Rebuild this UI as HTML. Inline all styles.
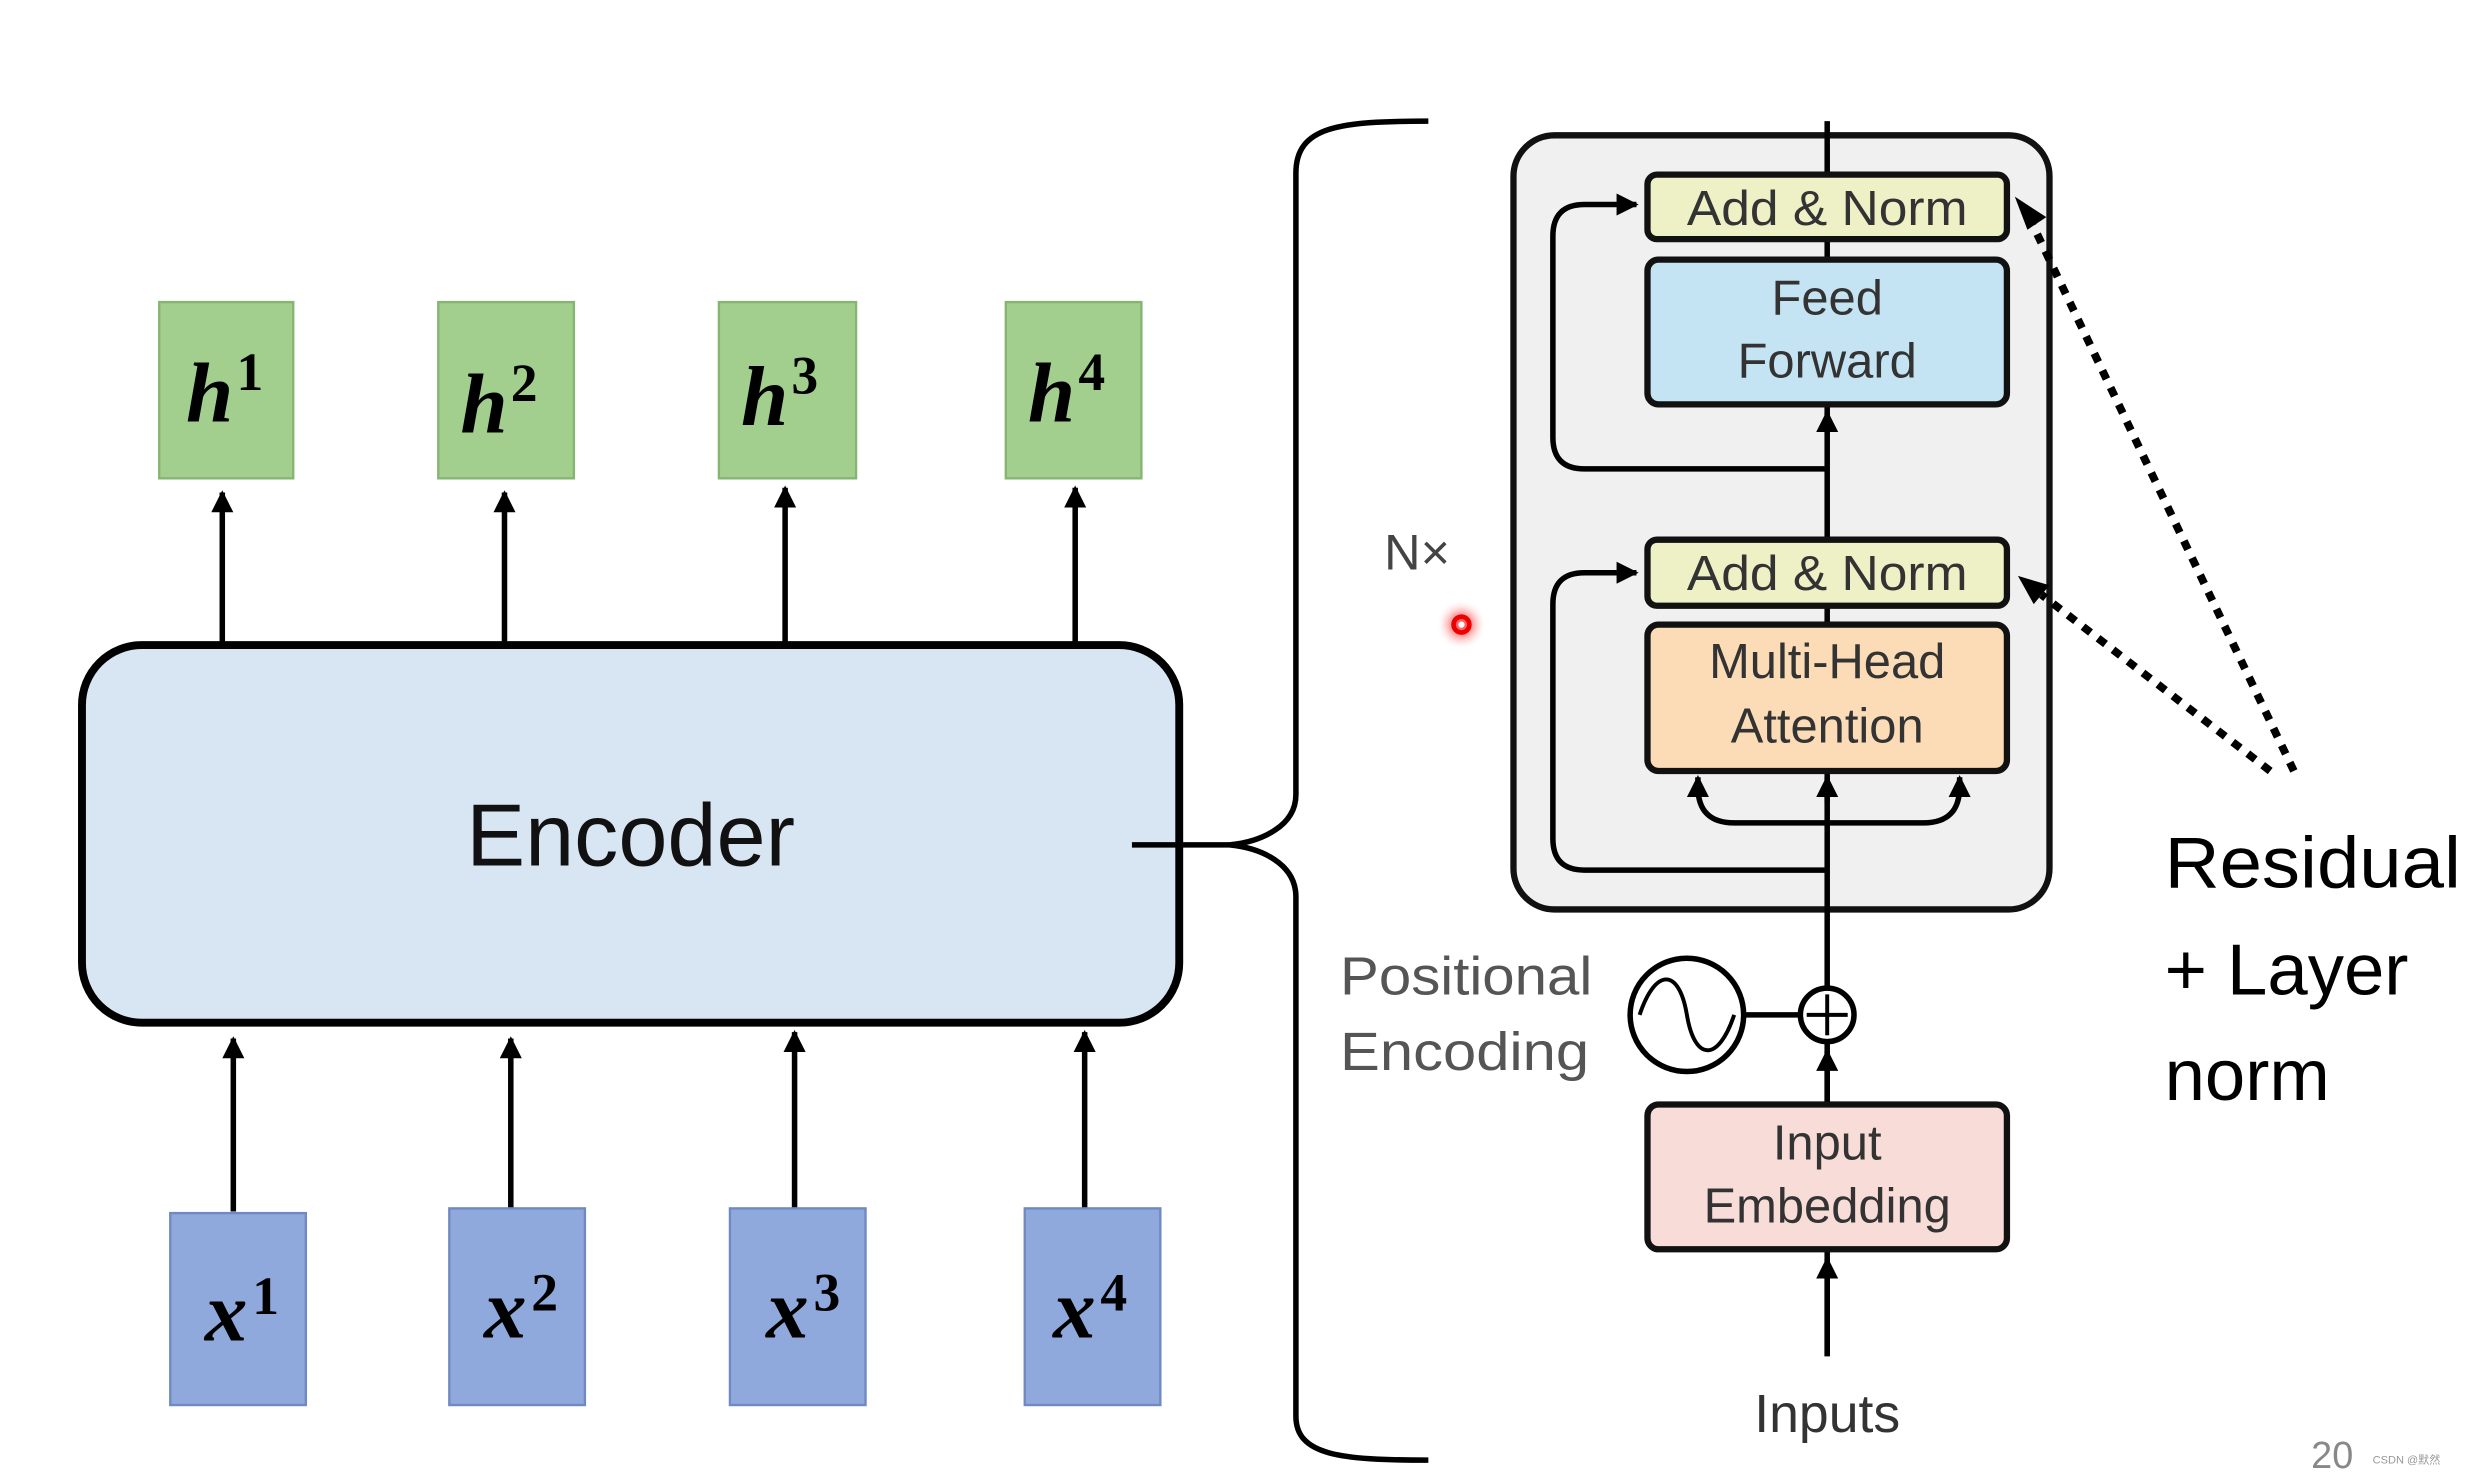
<!DOCTYPE html>
<html><head><meta charset="utf-8"><style>
html,body{margin:0;padding:0;background:#fff;}
svg{display:block;}
text{font-family:"Liberation Sans",sans-serif;}
.m text{font-family:"Liberation Serif",serif;font-style:italic;font-weight:bold;}
.m text.s{font-style:normal;font-weight:bold;}
</style></head><body>
<svg width="2472" height="1479" viewBox="0 0 1568 940" preserveAspectRatio="none" xmlns="http://www.w3.org/2000/svg">
<defs>
<marker id="a" viewBox="0 0 10 10" refX="9" refY="5" markerWidth="4" markerHeight="4" orient="auto"><path d="M0,0L10,5L0,10z" fill="#000"/></marker>
<radialGradient id="rd"><stop offset="0" stop-color="#ff3030"/><stop offset="0.5" stop-color="#ff8080" stop-opacity="0.6"/><stop offset="1" stop-color="#fff" stop-opacity="0"/></radialGradient>
</defs>
<rect width="1568" height="940" fill="#fff"/>
<g fill="#a3cf8e" stroke="#86b572" stroke-width="1.5">
<rect x="101" y="192" width="85" height="112"/><rect x="278" y="192" width="86" height="112"/>
<rect x="456" y="192" width="87" height="112"/><rect x="638" y="192" width="86" height="112"/>
</g>
<g class="m" font-size="54" fill="#000">
<text x="118" y="268">h</text><text class="s" x="150" y="248" font-size="34">1</text>
<text x="292" y="275">h</text><text class="s" x="324" y="255" font-size="34">2</text>
<text x="470" y="270">h</text><text class="s" x="502" y="250" font-size="34">3</text>
<text x="652" y="268">h</text><text class="s" x="684" y="248" font-size="34">4</text>
</g>
<g stroke="#000" stroke-width="3.5" marker-end="url(#a)">
<line x1="141" y1="408" x2="141" y2="313"/><line x1="320" y1="408" x2="320" y2="313"/>
<line x1="498" y1="408" x2="498" y2="310"/><line x1="682" y1="408" x2="682" y2="310"/>
<line x1="148" y1="770" x2="148" y2="660"/><line x1="324" y1="768" x2="324" y2="660"/>
<line x1="504" y1="768" x2="504" y2="656"/><line x1="688" y1="768" x2="688" y2="656"/>
</g>
<rect x="52" y="410" width="696" height="240" rx="38" fill="#d8e6f3" stroke="#000" stroke-width="5"/>
<text x="400" y="550" font-size="56" text-anchor="middle" fill="#111">Encoder</text>
<g fill="#8fa9dc" stroke="#7089c2" stroke-width="1.5">
<rect x="108" y="771" width="86" height="122"/><rect x="285" y="768" width="86" height="125"/>
<rect x="463" y="768" width="86" height="125"/><rect x="650" y="768" width="86" height="125"/>
</g>
<g class="m" font-size="54" fill="#000">
<text x="130" y="852">x</text><text class="s" x="160" y="835" font-size="34">1</text>
<text x="307" y="850">x</text><text class="s" x="337" y="833" font-size="34">2</text>
<text x="486" y="850">x</text><text class="s" x="516" y="833" font-size="34">3</text>
<text x="668" y="850">x</text><text class="s" x="698" y="833" font-size="34">4</text>
</g>
<path d="M906,77 C850,77 822,80 822,110 L822,505 C822,525 800,535 780,537 L718,537 M780,537 C800,539 822,549 822,570 L822,900 C822,925 850,928 906,928" fill="none" stroke="#000" stroke-width="3.5"/>
<rect x="960" y="86" width="340" height="492" rx="26" fill="#f0f0f0" stroke="#111" stroke-width="4"/>
<line x1="1159" y1="77" x2="1159" y2="862" stroke="#000" stroke-width="3.5"/>
<g stroke="#111" stroke-width="4">
<rect x="1045" y="111" width="228" height="41" rx="6" fill="#eef1c6"/>
<rect x="1045" y="165" width="228" height="92" rx="7" fill="#c4e3f3"/>
<rect x="1045" y="343" width="228" height="42" rx="6" fill="#eef1c6"/>
<rect x="1045" y="397" width="228" height="93" rx="7" fill="#fbdcb6"/>
<rect x="1045" y="702" width="228" height="92" rx="7" fill="#f8dcd8"/>
</g>
<g font-size="31" fill="#333" text-anchor="middle">
<text x="1159" y="143" textLength="178" lengthAdjust="spacingAndGlyphs">Add &amp; Norm</text>
<text x="1159" y="200">Feed</text><text x="1159" y="240">Forward</text>
<text x="1159" y="375" textLength="178" lengthAdjust="spacingAndGlyphs">Add &amp; Norm</text>
<text x="1159" y="431">Multi-Head</text><text x="1159" y="472">Attention</text>
<text x="1159" y="737">Input</text><text x="1159" y="777">Embedding</text>
<text x="1159" y="910" font-size="34">Inputs</text>
</g>
<g fill="none" stroke="#000" stroke-width="3.5">
<path d="M1159,298 L1005,298 Q985,298 985,278 L985,150 Q985,130 1005,130 L1038,130" marker-end="url(#a)"/>
<path d="M1159,553 L1005,553 Q985,553 985,533 L985,384 Q985,364 1005,364 L1038,364" marker-end="url(#a)"/>
<path d="M1159,275 L1159,262" marker-end="url(#a)"/>
<path d="M1159,510 L1159,494" marker-end="url(#a)"/>
<path d="M1159,523 L1100,523 Q1077,523 1077,500 L1077,494" marker-end="url(#a)"/>
<path d="M1159,523 L1220,523 Q1243,523 1243,500 L1243,494" marker-end="url(#a)"/>
<path d="M1159,700 L1159,668" marker-end="url(#a)"/>
<path d="M1159,862 L1159,800" marker-end="url(#a)"/>
<circle cx="1070" cy="645" r="36"/>
<path d="M1040,645 C1050,615 1065,615 1070,645 C1075,675 1090,675 1100,645" stroke-width="2.5"/>
<line x1="1106" y1="645" x2="1142" y2="645"/>
<circle cx="1159" cy="645" r="17" fill="#fff"/>
<line x1="1146" y1="645" x2="1172" y2="645" stroke-width="2.5"/>
<line x1="1159" y1="632" x2="1159" y2="658" stroke-width="2.5"/>
</g>
<text x="878" y="362" font-size="32" fill="#444">N×</text>
<circle cx="927" cy="397" r="16" fill="url(#rd)"/>
<circle cx="927" cy="397" r="5" fill="none" stroke="#e00" stroke-width="3"/>
<circle cx="927" cy="397" r="2" fill="#fff"/>
<g font-size="34" fill="#555"><text x="850" y="632" textLength="160" lengthAdjust="spacingAndGlyphs">Positional</text><text x="850" y="680" textLength="158" lengthAdjust="spacingAndGlyphs">Encoding</text></g>
<g stroke="#000" stroke-width="5" stroke-dasharray="6,6" fill="none">
<line x1="1455" y1="490" x2="1288" y2="140"/>
<line x1="1440" y1="490" x2="1295" y2="378"/>
</g>
<path d="M1278,125 L1298,138 L1286,146z" fill="#000"/>
<path d="M1280,366 L1300,372 L1290,384z" fill="#000"/>
<g font-size="46" fill="#000"><text x="1373" y="564" textLength="188" lengthAdjust="spacingAndGlyphs">Residual</text><text x="1373" y="632">+ Layer</text><text x="1373" y="699">norm</text></g>
<text x="1466" y="933" font-size="24" fill="#888">20</text>
<text x="1505" y="930" font-size="7" fill="#999">CSDN @默然</text>
</svg>
</body></html>
